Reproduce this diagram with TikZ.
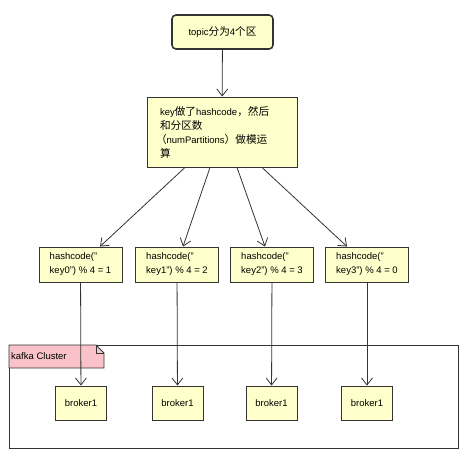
\documentclass[tikz,border=0pt]{standalone}
\usepackage{fontspec}
\setmainfont{Liberation Sans}
\newfontfamily\cjk[Scale=1.12]{Noto Sans CJK SC}
\newcommand{\zh}[1]{{\cjk #1}}
\usetikzlibrary{positioning,arrows.meta,calc}
\definecolor{boxfill}{HTML}{FFFFCC}
\definecolor{tabfill}{HTML}{F8C2C8}
\definecolor{edge}{HTML}{333333}
\tikzset{
box/.style={
  draw=edge,
  fill=boxfill,
  line width=0.9pt,
  font=\fontsize{9.5}{14}\selectfont
},
hashbox/.style={
  box,
  minimum width=83pt,
  minimum height=35pt,
  align=left
},
brokerbox/.style={
  box,
  minimum width=51pt,
  minimum height=34pt
},
link/.style={
  draw=edge,
  line width=0.8pt,
  -{Straight Barb[length=7pt,width=11pt]}
}
}

\begin{document}
\begin{tikzpicture}[x=1pt,y=-1pt]
  \useasboundingbox (0,0) rectangle (474,457);

  \node[box,rounded corners=4pt,line width=1.6pt,minimum width=101pt,minimum height=34pt]
    (topic) at (222.5,32) {topic\zh{分为}4\zh{个区}};
  \node[box,minimum width=150pt,minimum height=70pt,text width=132pt,inner xsep=9pt,align=left]
    (key) at (222,132) {\hspace*{4pt}key\zh{做了}hashcode\zh{，然后}\\\hspace*{4pt}\zh{和分区数}\\\zh{（}numPartitions\zh{）做模运}\\\hspace*{4pt}\zh{算}};

  \node[hashbox] (h0) at (80.5,264.5) {hashcode("\\key0") \% 4 = 1};
  \node[hashbox] (h1) at (177,264.5) {hashcode("\\key1") \% 4 = 2};
  \node[hashbox] (h2) at (272,264.5) {hashcode("\\key2") \% 4 = 3};
  \node[hashbox] (h3) at (367,264.5) {hashcode("\\key3") \% 4 = 0};

  % kafka cluster frame
  \draw[edge,line width=0.8pt] (9,345) rectangle (458,448);
  \draw[edge,line width=0.8pt,fill=tabfill] (9,345) -- (96,345) -- (104,353) -- (104,368) -- (9,368) -- cycle;
  \draw[edge,line width=0.6pt] (96,345) -- (96,353) -- (104,353);
  \node[anchor=west,inner sep=0pt,font=\fontsize{9.5}{12}\selectfont] (cluster) at (11,356) {kafka Cluster};

  \node[brokerbox] (b0) at (81,403) {broker1};
  \node[brokerbox] (b1) at (177.5,403) {broker1};
  \node[brokerbox] (b2) at (271.5,403) {broker1};
  \node[brokerbox] (b3) at (367,403) {broker1};

  \draw[link] (topic) -- (key);
  \draw[link] ($(key.south)+(-37,0)$) -- ($(h0.north)+(19.5,0)$);
  \draw[link] ($(key.south)+(-12,0)$) -- ($(h1.north)+(6,0)$);
  \draw[link] ($(key.south)+(15,0)$) -- ($(h2.north)+(-7,0)$);
  \draw[link] ($(key.south)+(40,0)$) -- ($(h3.north)+(-20,0)$);

  \draw[link] (h0) -- (b0);
  \draw[link] (h1) -- (b1);
  \draw[link] (h2) -- (b2);
  \draw[link] (h3) -- (b3);
\end{tikzpicture}
\end{document}
